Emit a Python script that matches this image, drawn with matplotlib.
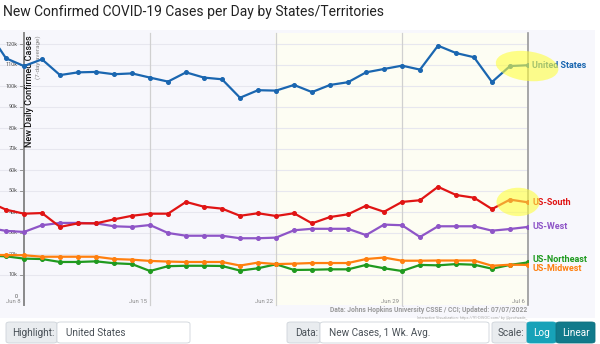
import numpy as np
import pandas as pd
import matplotlib
matplotlib.use("Agg")
from matplotlib import pyplot as plt
from matplotlib.patches import Rectangle, FancyBboxPatch, Ellipse
import matplotlib.dates as mdates

plt.rcParams['font.family'] = ['Roboto', 'DejaVu Sans']

# 7-day average of new cases, thousands per day, Jun 6 .. Jul 6 2022
dates = pd.date_range('2022-06-06', '2022-07-06', freq='D')
us = [126.0, 113.2, 109.5, 112.7, 105.2, 106.5, 106.7, 105.6, 106.0, 104.0,
      102.1, 106.5, 104.0, 103.2, 94.4, 98.0, 97.8, 100.5, 97.1, 100.5,
      101.8, 106.5, 108.1, 109.7, 107.8, 119.2, 115.7, 113.7, 101.9, 109.5, 109.9]
south = [45.0, 41.1, 39.2, 39.5, 32.9, 34.6, 34.6, 36.5, 38.2, 39.2,
         39.2, 44.8, 42.5, 41.6, 38.2, 39.4, 38.1, 39.4, 34.6, 37.6,
         38.9, 43.0, 40.1, 44.8, 45.6, 52.0, 48.1, 46.8, 41.4, 45.9, 44.6]
west = [32.5, 31.0, 30.5, 33.7, 34.8, 34.8, 34.6, 33.2, 32.9, 33.8,
        30.0, 28.7, 28.7, 28.7, 27.5, 27.5, 27.8, 31.3, 32.0, 32.0,
        32.0, 29.0, 34.0, 33.7, 28.1, 33.2, 33.2, 33.2, 31.1, 31.9, 32.9]
midwest = [19.6, 19.5, 19.4, 18.7, 18.7, 18.7, 18.7, 17.6, 17.3, 16.7,
           16.4, 16.2, 16.2, 16.2, 14.5, 15.9, 15.2, 15.4, 15.7, 15.7,
           15.7, 17.6, 18.3, 16.8, 16.8, 16.9, 16.9, 16.9, 14.4, 14.9, 14.8]
northeast = [19.2, 18.9, 17.8, 17.6, 16.2, 16.2, 16.5, 15.6, 15.2, 11.9,
             14.2, 14.4, 14.4, 14.3, 12.1, 13.2, 15.1, 12.4, 12.5, 12.7,
             12.7, 14.8, 13.2, 11.9, 14.8, 14.6, 15.2, 14.9, 13.0, 14.8, 16.0]

series_names = ['US-Northeast', 'US-Midwest', 'US-West', 'US-South', 'United States']
series_vals = [northeast, midwest, west, south, us]
colors = ['#1f9a1f', '#ff7f0e', '#8e55c7', '#e01414', '#1a66b0']
label_shift = [2.0, -2.6, 0, 0, 0]   # points, keeps the two bottom labels apart

yticks = [0, 10, 20, 30, 40, 50, 60, 70, 80, 90, 100, 110, 120]
ytick_labels = ['0', '10k', '20k', '30k', '40k', '50k', '60k', '70k', '80k', '90k', '100k', '110k', '120k']
week_ticks = pd.to_datetime(['2022-06-08', '2022-06-15', '2022-06-22', '2022-06-29', '2022-07-06'])
week_labels = ['Jun 8', 'Jun 15', 'Jun 22', 'Jun 29', 'Jul 6']

W, H = 600, 344
fig = plt.figure(figsize=(W / 100, H / 100), dpi=100)


def fx(x):
    return x / W


def fy(y):
    return 1 - y / H


def frect(x0, y0, x1, y1, **kw):
    fig.patches.append(Rectangle((fx(x0), fy(y1)), fx(x1) - fx(x0), fy(y0) - fy(y1),
                                 transform=fig.transFigure, **kw))


# panel backgrounds, behind the axes
frect(0, 30, 595, 318, facecolor='#f7f7fc', edgecolor='none', zorder=-2)
frect(275, 33, 527, 305, facecolor='#fdfdf3', edgecolor='none', zorder=-1)

fig.text(fx(3), fy(12), 'New Confirmed COVID-19 Cases per Day by States/Territories',
         fontsize=10.0, color='#222222', ha='left', va='center')

ax = fig.add_axes([0, fy(296), fx(528), fy(33) - fy(296)])
ax.set_facecolor('none')
for s in ax.spines.values():
    s.set_visible(False)
ax.set_xticks([])
ax.set_yticks([])

day = pd.Timedelta(days=1)
x0 = week_ticks[0] - day * (24 / 18)
ax.set_xlim(x0, week_ticks[-1])
ax.set_ylim(0, (296 - 33) / 2.1)

# horizontal grid and y tick labels
for v, lab in zip(yticks, ytick_labels):
    if v > 0:
        ax.plot([x0, week_ticks[-1]], [v, v], color='#e7e7ef', lw=0.8, zorder=1)
    ax.plot([week_ticks[0] - day * 0.2, week_ticks[0]], [v, v], color='#888888', lw=0.6, zorder=2)
    ax.annotate(lab, (mdates.date2num(week_ticks[0]), v), xytext=(-4.5, 0),
                textcoords='offset points', ha='right', va='center', fontsize=4,
                color='#555555')

# weekly vertical lines
for i, (d, lab) in enumerate(zip(week_ticks, week_labels)):
    if i == 0:
        c, lw = '#8a8a8a', 1.4
    elif i == len(week_ticks) - 1:
        c, lw = '#999999', 1.2
    else:
        c, lw = '#d0d0d0', 0.9
    ax.plot([d, d], [-4.5, 125.2], color=c, lw=lw, zorder=2, clip_on=False)
    ax.annotate(lab, (mdates.date2num(d), 0), xytext=(-2.5, -2.2),
                textcoords='offset points', ha='right', va='top', fontsize=4.3,
                color='#888888')

# y axis title
ax.text(mdates.date2num(week_ticks[0]) + 0.28, 124, 'New Daily Confirmed Cases', rotation=90,
        ha='center', va='top', fontsize=6.5, color='#111111', fontweight='medium')
ax.text(mdates.date2num(week_ticks[0]) + 0.78, 124, '(7-day average)', rotation=90,
        ha='center', va='top', fontsize=4.6, color='#888888')

# data lines
for name, vals, c, dy in zip(series_names, series_vals, colors, label_shift):
    ax.plot(dates, vals, color=c, lw=1.6, marker='o', markersize=2.6, zorder=4)
    ax.annotate(name, (mdates.date2num(dates[-1]), vals[-1]), xytext=(3, dy),
                textcoords='offset points', ha='left', va='center', fontsize=6.5,
                color=c, fontweight='bold', annotation_clip=False, zorder=5)

# highlighter marks on the latest values
jul5 = mdates.date2num(dates[-2])
ax.add_patch(Ellipse((jul5 + 0.95, us[-1] - 0.4), 3.4, 14.5, angle=3, facecolor='#ffff40',
                     alpha=0.6, edgecolor='none', zorder=6, clip_on=False))
ax.add_patch(Ellipse((jul5 + 0.45, south[-2] - 1.1), 2.4, 13.5, facecolor='#ffff40',
                     alpha=0.6, edgecolor='none', zorder=6, clip_on=False))

# source notes
fig.text(fx(527), fy(310), 'Data: Johns Hopkins University CSSE / CCI; Updated: 07/07/2022',
         fontsize=4.9, color='#9a9a9a', ha='right', va='center', fontweight='bold')
fig.text(fx(527), fy(318), 'Interactive Visualization: https://91-DIVOC.com/ by @profwade_',
         fontsize=2.8, color='#aaaaaa', ha='right', va='center')


# control bar
def fbox(x0, y0, x1, y1, fc, ec='#ced4da'):
    fig.patches.append(FancyBboxPatch((fx(x0), fy(y1)), fx(x1) - fx(x0), fy(y0) - fy(y1),
                                      boxstyle='round,pad=0,rounding_size=0.006',
                                      transform=fig.transFigure, facecolor=fc,
                                      edgecolor=ec, lw=0.6, zorder=2))


def chevron(x, y):
    fig.lines.append(plt.Line2D([fx(x - 2), fx(x), fx(x + 2)], [fy(y - 1), fy(y + 1), fy(y - 1)],
                                transform=fig.transFigure, color='#999999', lw=0.6))


bar_top, bar_bot = 322, 343
fbox(6, bar_top, 57, bar_bot, '#e9ecef')
fbox(57, bar_top, 190, bar_bot, '#ffffff')
fig.text(fx(12), fy(332.5), 'Highlight:', fontsize=7.2, color='#495057', va='center')
fig.text(fx(66), fy(332.5), 'United States', fontsize=7.2, color='#495057', va='center')
chevron(186, 332)

fbox(287, bar_top, 320, bar_bot, '#e9ecef')
fbox(320, bar_top, 489, bar_bot, '#ffffff')
fig.text(fx(295), fy(332.5), 'Data:', fontsize=7.2, color='#495057', va='center')
fig.text(fx(329), fy(332.5), 'New Cases, 1 Wk. Avg.', fontsize=7.2, color='#495057', va='center')
chevron(484, 332)

fbox(492, bar_top, 527, bar_bot, '#e9ecef')
fbox(527, bar_top, 556, bar_bot, '#17a2b8', ec='#17a2b8')
fbox(556, bar_top, 595, bar_bot, '#117a8b', ec='#10707f')
fig.text(fx(498), fy(332.5), 'Scale:', fontsize=7.2, color='#495057', va='center')
fig.text(fx(541.5), fy(332.5), 'Log', fontsize=7.2, color='white', va='center', ha='center')
fig.text(fx(575.5), fy(332.5), 'Linear', fontsize=7.2, color='white', va='center', ha='center')

fig.savefig('out.png', dpi=100)
